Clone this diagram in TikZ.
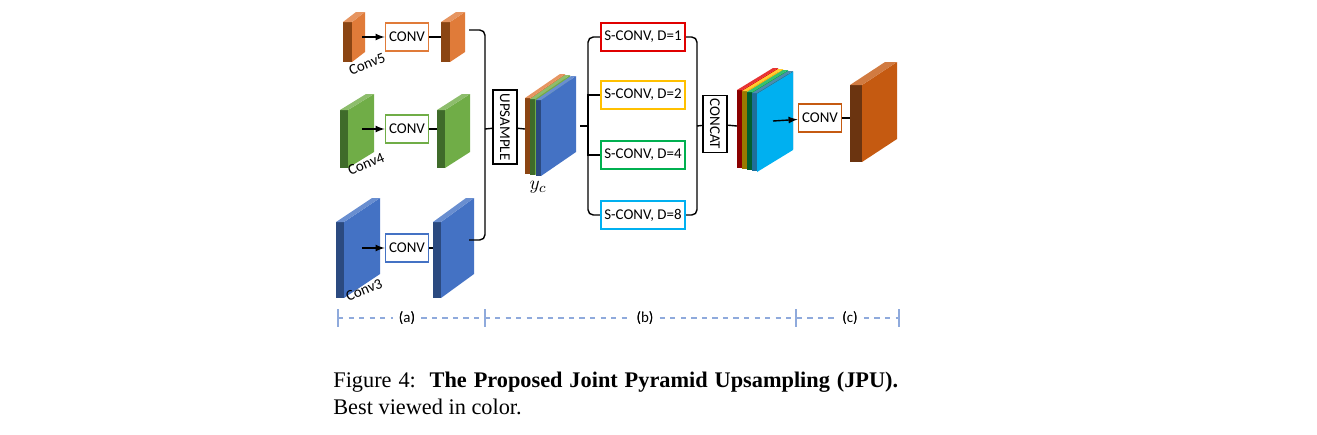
\documentclass[tikz,border=0pt]{standalone}
\usepackage{fontspec}
\setmainfont{Liberation Serif}
\newfontfamily\diagfont{Carlito}
\usepackage{tikz}

\definecolor{orgF}{HTML}{E07B39}\definecolor{orgS}{HTML}{8B4513}
\definecolor{grnF}{HTML}{70AD47}\definecolor{grnS}{HTML}{3F6B2A}
\definecolor{bluF}{HTML}{4472C4}\definecolor{bluS}{HTML}{2B4A80}
\definecolor{brnF}{HTML}{C55A11}\definecolor{brnS}{HTML}{6B3410}
\definecolor{redF}{HTML}{E00000}\definecolor{redS}{HTML}{8B0000}
\definecolor{yelF}{HTML}{FFC000}\definecolor{yelS}{HTML}{9A7A00}
\definecolor{gr2F}{HTML}{00B050}\definecolor{gr2S}{HTML}{006030}
\definecolor{cyaF}{HTML}{00B0F0}\definecolor{cyaS}{HTML}{1F6E9A}
\definecolor{dimc}{HTML}{8FAADC}

% slab: x, y (top left of side face), thickness, width, height, skew, front, side
\newcommand\slab[8]{
\fill[#8] (#1,#2) rectangle ++(#3,#5);
\fill[#7] (#1,#2) ++(#3,0) -- ++(0,#5) -- ++(#4,-#6) -- ++(0,-#5) -- cycle;
\fill[#7!80!white] (#1,#2) -- ++(#3,0) -- ++(#4,-#6) -- ++(-#3,0) -- cycle;
}

\tikzset{
  box/.style={draw, line width=1pt, fill=white, font=\diagfont\fontsize{8.5}{10}\selectfont, inner sep=2pt, minimum height=16pt},
  lbl/.style={font=\diagfont\fontsize{8.5}{10}\selectfont},
  arr/.style={-latex, line width=0.8pt},
  con/.style={line width=0.8pt},
  brace/.style={line width=0.8pt, rounded corners=3pt},
  dim/.style={dimc, line width=0.8pt}
}

\begin{document}
\begin{tikzpicture}[x=0.02cm,y=-0.02cm]
\useasboundingbox (0,0) rectangle (1317,434);

% (a) inputs and outputs
\slab{343}{22}{9}{13}{40}{10}{orgF}{orgS}
\slab{441}{22}{9}{15}{40}{10}{orgF}{orgS}
\slab{340}{110}{8}{26}{58}{16}{grnF}{grnS}
\slab{437}{110}{8}{25}{58}{16}{grnF}{grnS}
\slab{336}{222}{8}{36}{76}{24}{bluF}{bluS}
\slab{433}{222}{8}{33}{76}{24}{bluF}{bluS}

\coordinate (in5) at (362,37);
\coordinate (in4) at (362,129);
\coordinate (in3) at (362,248);
\coordinate (out5) at (441,37);
\coordinate (out4) at (437,129);
\coordinate (out3) at (433,248);
\node[box, draw=orgF] (conv5) at (407,37) {CONV};
\node[box, draw=grnF] (conv4) at (407,129) {CONV};
\node[box, draw=bluF] (conv3) at (407,248) {CONV};
\draw[arr] (in5) -- (conv5);
\draw[arr] (in4) -- (conv4);
\draw[arr] (in3) -- (conv3);
\draw[con] (conv5) -- (out5);
\draw[con] (conv4) -- (out4);
\draw[con] (conv3) -- (out3);

\node[lbl, rotate=22] (l5) at (367,64) {Conv5};
\node[lbl, rotate=22] (l4) at (366,164) {Conv4};
\node[lbl, rotate=22] (l3) at (364,290) {Conv3};

% upsample
\coordinate (b1) at (485,129);
\draw[brace] (469,30) -| (b1) |- (469,240);
\node[box, rotate=-90, minimum height=14pt] (up) at (505,127) {UPSAMPLE};
\draw[con] (b1) -- (up);

% y_c stack
\slab{525}{98}{5}{35}{76}{24}{orgF}{orgS}
\slab{530}{99}{5}{35}{76}{24}{grnF}{grnS}
\slab{536}{100}{5}{35}{76}{24}{bluF}{bluS}
\coordinate (yc) at (525,129);
\draw[con] (up) -- (yc);
\node[font=\fontsize{11}{12}\selectfont] (yclbl) at (538,187) {$y_c$};

% (b) separable convs
\coordinate (b2) at (588,126);
\node[box, draw=redF] (s1) at (643,37) {S-CONV, D=1};
\node[box, draw=yelF] (s2) at (643,95) {S-CONV, D=2};
\node[box, draw=gr2F] (s4) at (643,155) {S-CONV, D=4};
\node[box, draw=cyaF] (s8) at (643,215) {S-CONV, D=8};
\draw[con] (580,126) -- (b2);
\draw[brace] (s1.west) -| (b2) |- (s8.west);
\draw[con] (b2) |- (s2.west);
\draw[con] (b2) |- (s4.west);

\coordinate (b3) at (697,126);
\draw[brace] (s1.east) -| (b3) |- (s8.east);
\node[box, rotate=-90, minimum height=14pt] (cat) at (715,124) {CONCAT};
\draw[con] (b3) -- (cat);

% concat stack
\slab{737}{90}{5}{36}{78}{22}{redF}{redS}
\slab{742}{91}{5}{36}{78}{22}{yelF}{yelS}
\slab{747}{92}{5}{36}{78}{22}{gr2F}{gr2S}
\slab{752}{93}{5}{36}{78}{22}{cyaS}{cyaS}
\slab{757}{94}{0}{36}{78}{22}{cyaF}{cyaS}
\coordinate (cc) at (737,126);
\draw[con] (cat) -- (cc);

% (c) final conv
\coordinate (cin) at (773,121);
\node[box, draw=brnF] (conv) at (820,118) {CONV};
\draw[arr] (cin) -- (conv);
\slab{850}{85}{12}{35}{77}{23}{brnF}{brnS}
\coordinate (fin) at (850,118);
\draw[con] (conv) -- (fin);

% dimension line
\foreach \x in {338,485,796,899} \draw[dim] (\x,309) -- (\x,327);
\node[lbl] (la) at (407,318) {(a)};
\node[lbl] (lb) at (645,318) {(b)};
\node[lbl] (lc) at (850,318) {(c)};
\draw[dim, dashed] (338,318) -- (la) -- (485,318) -- (lb) -- (796,318) -- (lc) -- (899,318);
\foreach \n in {la,lb,lc} \node[lbl, fill=white, inner sep=3pt] at (\n) {};
\node[lbl] at (la) {(a)};
\node[lbl] at (lb) {(b)};
\node[lbl] at (lc) {(c)};

% caption
\node[anchor=north west, inner sep=0pt, text width=11.3cm, align=justify,
      font=\fontsize{12.7}{15.4}\selectfont] (cap) at (333,372)
  {Figure 4:\ \ \textbf{The Proposed Joint Pyramid Upsampling (JPU).} Best viewed in color.};
\end{tikzpicture}
\end{document}
